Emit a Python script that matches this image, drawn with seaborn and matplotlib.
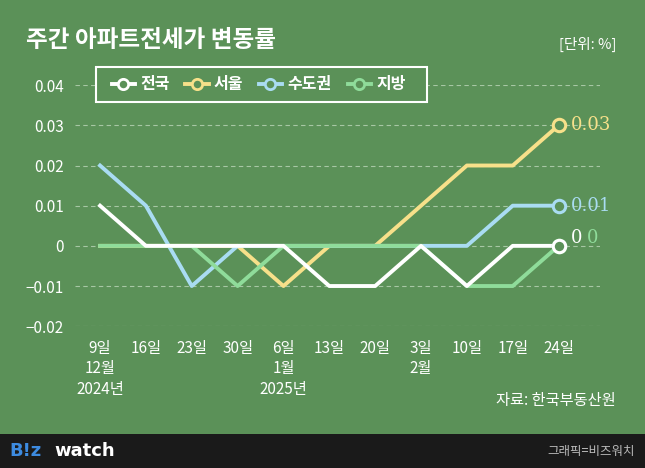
import matplotlib
matplotlib.use("Agg")
import matplotlib.pyplot as plt
import seaborn as sns
import pandas as pd
from matplotlib.patches import Rectangle

plt.rcParams["font.family"] = ["Noto Sans CJK JP", "DejaVu Sans"]
plt.rcParams["axes.unicode_minus"] = True

# 데이터
days = ["9일", "16일", "23일", "30일", "6일", "13일", "20일", "3일", "10일", "17일", "24일"]
month_labels = ["9일\n12월\n2024년", "16일", "23일", "30일", "6일\n1월\n2025년", "13일", "20일",
                "3일\n2월", "10일", "17일", "24일"]
nationwide = [0.01, 0, 0, 0, 0, -0.01, -0.01, 0, -0.01, 0, 0]
seoul = [0, 0, 0, 0, -0.01, 0, 0, 0.01, 0.02, 0.02, 0.03]
capital = [0.02, 0.01, -0.01, 0, 0, 0, 0, 0, 0, 0.01, 0.01]
local = [0, 0, 0, -0.01, 0, 0, 0, 0, -0.01, -0.01, 0]

series = ["전국", "서울", "수도권", "지방"]
colors = {"전국": "#ffffff", "서울": "#f7e08a", "수도권": "#a9dcf2", "지방": "#8fdc9a"}
bg = "#5b9158"

rows = []
for name, vals in zip(series, [nationwide, seoul, capital, local]):
    for i, v in enumerate(vals):
        rows.append({"idx": i, "value": v, "series": name})
df = pd.DataFrame(rows)

fig = plt.figure(figsize=(6.45, 4.68), dpi=100, facecolor=bg)
ax = fig.add_axes([0.116, 0.303, 0.814, 0.515])
ax.set_facecolor(bg)

# 그리는 순서: 서울 -> 수도권 -> 지방 -> 전국
for name in ["서울", "수도권", "지방", "전국"]:
    sns.lineplot(data=df[df.series == name], x="idx", y="value", color=colors[name],
                 linewidth=2.8, ax=ax, zorder=3, legend=False)

last = len(days) - 1
for name, vals in [("지방", local), ("수도권", capital), ("서울", seoul), ("전국", nationwide)]:
    ax.scatter([last], [vals[last]], s=80, facecolor=bg, edgecolor=colors[name],
               linewidth=2.2, zorder=5)

ax.text(last + 0.27, seoul[last], "0.03", color=colors["서울"], fontsize=13,
        family="DejaVu Serif", va="center")
ax.text(last + 0.27, capital[last], "0.01", color=colors["수도권"], fontsize=13,
        family="DejaVu Serif", va="center")
ax.text(last + 0.27, nationwide[last] + 0.002, "0", color="white", fontsize=13,
        family="DejaVu Serif", va="center")
ax.text(last + 0.62, local[last] + 0.002, "0", color=colors["지방"], fontsize=13,
        family="DejaVu Serif", va="center")

ax.set_xlim(-0.55, 10.9)
ax.set_ylim(-0.02, 0.04)
yt = [-0.02, -0.01, 0, 0.01, 0.02, 0.03, 0.04]
ax.set_yticks(yt)
ax.set_yticklabels(["−0.02", "−0.01", "0", "0.01", "0.02", "0.03", "0.04"])
ax.set_xticks(range(len(days)))
ax.set_xticklabels(month_labels, va="top", linespacing=1.25)
ax.tick_params(colors="white", labelsize=11, length=0)
ax.tick_params(axis="x", pad=10)
ax.tick_params(axis="y", pad=8)
ax.grid(axis="y", color="#a7c7a4", linestyle=(0, (4, 3)), linewidth=0.8)
ax.grid(axis="x", visible=False)
for s in ax.spines.values():
    s.set_visible(False)
ax.set_xlabel("")
ax.set_ylabel("")

# 범례
ax.add_patch(Rectangle((0.04, 0.93), 0.63, 0.145, transform=ax.transAxes, facecolor=bg,
                       edgecolor="white", linewidth=1.5, zorder=6, clip_on=False))
lx = [0.07, 0.21, 0.35, 0.52]
for x0, name in zip(lx, series):
    ax.plot([x0, x0 + 0.045], [1.003, 1.003], transform=ax.transAxes, color=colors[name],
            lw=2.8, zorder=7, clip_on=False)
    ax.scatter([x0 + 0.022], [1.003], transform=ax.transAxes, s=55, facecolor=bg,
               edgecolor=colors[name], lw=2, zorder=8, clip_on=False)
    ax.text(x0 + 0.055, 1.003, name, transform=ax.transAxes, color="white", fontsize=11.5,
            va="center", zorder=8, fontweight="bold")

fig.text(0.04, 0.915, "주간 아파트전세가 변동률", color="white", fontsize=17, fontweight="bold",
         va="center")
fig.text(0.955, 0.905, "[단위: %]", color="white", fontsize=10.5, ha="right", va="center")
fig.text(0.955, 0.145, "자료: 한국부동산원", color="white", fontsize=11, ha="right", va="center")

# 하단 바
fig.add_artist(Rectangle((0, 0), 1, 0.073, transform=fig.transFigure, facecolor="#1a1a1a",
                         edgecolor="none"))
fig.text(0.015, 0.036, "B!z", color="#3d8be0", fontsize=13, fontweight="bold", va="center",
         family="DejaVu Sans")
fig.text(0.085, 0.036, "watch", color="white", fontsize=13, fontweight="bold", va="center",
         family="DejaVu Sans")
fig.text(0.985, 0.036, "그래픽=비즈워치", color="#bbbbbb", fontsize=9, ha="right", va="center")

fig.savefig("out.png", dpi=100, facecolor=bg)
